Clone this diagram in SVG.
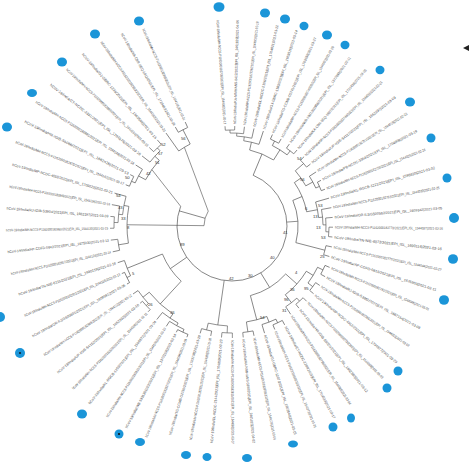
<svg xmlns="http://www.w3.org/2000/svg" width="474" height="474" viewBox="0 0 474 474">
<style>
.c line,.c circle,.c path{stroke:#4a4a4a;stroke-width:0.6;fill:none}
.lab{font-family:"Liberation Sans",Arial,sans-serif;font-size:3.6px;fill:#474747}
.l{text-anchor:end}
.bs{font-family:"Liberation Sans",Arial,sans-serif;font-size:4.2px;fill:#333}
.dot{fill:#1b95d8}
</style>
<rect width="474" height="474" fill="#fff"/>
<g transform="translate(232,226)">
<g id="connectors" class="c">
<circle r="96" pathLength="360" stroke-dasharray="5.57 400" transform="rotate(-94)"/>
<circle r="93" pathLength="360" stroke-dasharray="8.36 400" transform="rotate(-91.22)"/>
<circle r="90" pathLength="360" stroke-dasharray="9.75 400" transform="rotate(-87.04)"/>
<circle r="86" pathLength="360" stroke-dasharray="10.44 400" transform="rotate(-82.16)"/>
<circle r="95" pathLength="360" stroke-dasharray="5.57 400" transform="rotate(-66.15)"/>
<circle r="95" pathLength="360" stroke-dasharray="5.57 400" transform="rotate(-55.01)"/>
<circle r="90" pathLength="360" stroke-dasharray="11.14 400" transform="rotate(-63.37)"/>
<circle r="78" pathLength="360" stroke-dasharray="19.14 400" transform="rotate(-76.94)"/>
<circle r="95" pathLength="360" stroke-dasharray="5.57 400" transform="rotate(-43.87)"/>
<circle r="96" pathLength="360" stroke-dasharray="5.57 400" transform="rotate(-27.16)"/>
<circle r="92" pathLength="360" stroke-dasharray="8.35 400" transform="rotate(-32.73)"/>
<circle r="84" pathLength="360" stroke-dasharray="12.53 400" transform="rotate(-41.09)"/>
<circle r="97" pathLength="360" stroke-dasharray="5.57 400" transform="rotate(0.69)"/>
<circle r="94" pathLength="360" stroke-dasharray="8.36 400" transform="rotate(-4.88)"/>
<circle r="91" pathLength="360" stroke-dasharray="9.75 400" transform="rotate(-10.45)"/>
<circle r="87" pathLength="360" stroke-dasharray="10.44 400" transform="rotate(-16.02)"/>
<circle r="76" pathLength="360" stroke-dasharray="24.03 400" transform="rotate(-34.83)"/>
<circle r="96" pathLength="360" stroke-dasharray="5.57 400" transform="rotate(11.83)"/>
<circle r="66" pathLength="360" stroke-dasharray="37.44 400" transform="rotate(-22.82)"/>
<circle r="101" pathLength="360" stroke-dasharray="5.57 400" transform="rotate(22.97)"/>
<circle r="101" pathLength="360" stroke-dasharray="5.57 400" transform="rotate(34.11)"/>
<circle r="95" pathLength="360" stroke-dasharray="11.14 400" transform="rotate(25.76)"/>
<circle r="101" pathLength="360" stroke-dasharray="5.57 400" transform="rotate(45.25)"/>
<circle r="97" pathLength="360" stroke-dasharray="8.35 400" transform="rotate(48.04)"/>
<circle r="87" pathLength="360" stroke-dasharray="20.89 400" transform="rotate(31.33)"/>
<circle r="107" pathLength="360" stroke-dasharray="5.57 400" transform="rotate(61.96)"/>
<circle r="103" pathLength="360" stroke-dasharray="8.35 400" transform="rotate(64.75)"/>
<circle r="107" pathLength="360" stroke-dasharray="5.57 400" transform="rotate(78.67)"/>
<circle r="97" pathLength="360" stroke-dasharray="12.53 400" transform="rotate(68.93)"/>
<circle r="72" pathLength="360" stroke-dasharray="33.42 400" transform="rotate(41.78)"/>
<circle r="107" pathLength="360" stroke-dasharray="5.57 400" transform="rotate(89.81)"/>
<circle r="107" pathLength="360" stroke-dasharray="5.57 400" transform="rotate(100.95)"/>
<circle r="100" pathLength="360" stroke-dasharray="11.14 400" transform="rotate(92.6)"/>
<circle r="117" pathLength="360" stroke-dasharray="5.57 400" transform="rotate(112.09)"/>
<circle r="114" pathLength="360" stroke-dasharray="8.35 400" transform="rotate(114.88)"/>
<circle r="111" pathLength="360" stroke-dasharray="9.74 400" transform="rotate(119.06)"/>
<circle r="117" pathLength="360" stroke-dasharray="5.57 400" transform="rotate(134.37)"/>
<circle r="114" pathLength="360" stroke-dasharray="8.35 400" transform="rotate(137.16)"/>
<circle r="106" pathLength="360" stroke-dasharray="17.41 400" transform="rotate(123.93)"/>
<circle r="117" pathLength="360" stroke-dasharray="5.57 400" transform="rotate(151.08)"/>
<circle r="113" pathLength="360" stroke-dasharray="8.35 400" transform="rotate(153.87)"/>
<circle r="75" pathLength="360" stroke-dasharray="25.41 400" transform="rotate(132.64)"/>
<circle r="115" pathLength="360" stroke-dasharray="5.57 400" transform="rotate(167.79)"/>
<circle r="118" pathLength="360" stroke-dasharray="5.57 400" transform="rotate(178.93)"/>
<circle r="114" pathLength="360" stroke-dasharray="8.35 400" transform="rotate(181.72)"/>
<circle r="110" pathLength="360" stroke-dasharray="9.74 400" transform="rotate(185.9)"/>
<circle r="105" pathLength="360" stroke-dasharray="20.19 400" transform="rotate(170.58)"/>
<circle r="110" pathLength="360" stroke-dasharray="5.57 400" transform="rotate(201.21)"/>
<circle r="106" pathLength="360" stroke-dasharray="8.35 400" transform="rotate(204)"/>
<circle r="108" pathLength="360" stroke-dasharray="5.57 400" transform="rotate(223.49)"/>
<circle r="104" pathLength="360" stroke-dasharray="8.36 400" transform="rotate(217.92)"/>
<circle r="98" pathLength="360" stroke-dasharray="13.92 400" transform="rotate(208.18)"/>
<circle r="108" pathLength="360" stroke-dasharray="5.57 400" transform="rotate(240.2)"/>
<circle r="92" pathLength="360" stroke-dasharray="8.36 400" transform="rotate(234.63)"/>
<circle r="55" pathLength="360" stroke-dasharray="268.37 400" transform="rotate(-67.37)"/>
<circle r="28" pathLength="360" stroke-dasharray="31.32 400" transform="rotate(180.68)"/>
<line x1="93" x2="96" transform="rotate(-91.22)"/>
<line x1="90" x2="93" transform="rotate(-87.04)"/>
<line x1="86" x2="90" transform="rotate(-82.16)"/>
<line x1="78" x2="86" transform="rotate(-76.94)"/>
<line x1="90" x2="95" transform="rotate(-63.37)"/>
<line x1="90" x2="95" transform="rotate(-52.23)"/>
<line x1="78" x2="90" transform="rotate(-57.8)"/>
<line x1="55" x2="78" transform="rotate(-67.37)"/>
<line x1="84" x2="95" transform="rotate(-41.09)"/>
<line x1="92" x2="96" transform="rotate(-24.38)"/>
<line x1="84" x2="92" transform="rotate(-28.56)"/>
<line x1="76" x2="84" transform="rotate(-34.83)"/>
<line x1="94" x2="97" transform="rotate(3.48)"/>
<line x1="91" x2="94" transform="rotate(-0.7)"/>
<line x1="87" x2="91" transform="rotate(-5.58)"/>
<line x1="76" x2="87" transform="rotate(-10.8)"/>
<line x1="66" x2="76" transform="rotate(-22.82)"/>
<line x1="66" x2="96" transform="rotate(14.62)"/>
<line x1="55" x2="66" transform="rotate(-4.1)"/>
<line x1="95" x2="101" transform="rotate(25.76)"/>
<line x1="95" x2="101" transform="rotate(36.9)"/>
<line x1="87" x2="95" transform="rotate(31.33)"/>
<line x1="97" x2="101" transform="rotate(48.04)"/>
<line x1="87" x2="97" transform="rotate(52.22)"/>
<line x1="72" x2="87" transform="rotate(41.78)"/>
<line x1="103" x2="107" transform="rotate(64.75)"/>
<line x1="97" x2="103" transform="rotate(68.93)"/>
<line x1="97" x2="107" transform="rotate(81.46)"/>
<line x1="72" x2="97" transform="rotate(75.2)"/>
<line x1="55" x2="72" transform="rotate(58.49)"/>
<line x1="100" x2="107" transform="rotate(92.6)"/>
<line x1="100" x2="107" transform="rotate(103.74)"/>
<line x1="55" x2="100" transform="rotate(98.17)"/>
<line x1="114" x2="117" transform="rotate(114.88)"/>
<line x1="111" x2="114" transform="rotate(119.06)"/>
<line x1="106" x2="111" transform="rotate(123.93)"/>
<line x1="114" x2="117" transform="rotate(137.16)"/>
<line x1="106" x2="114" transform="rotate(141.34)"/>
<line x1="75" x2="106" transform="rotate(132.64)"/>
<line x1="113" x2="117" transform="rotate(153.87)"/>
<line x1="75" x2="113" transform="rotate(158.05)"/>
<line x1="55" x2="75" transform="rotate(145.35)"/>
<line x1="105" x2="115" transform="rotate(170.58)"/>
<line x1="114" x2="118" transform="rotate(181.72)"/>
<line x1="110" x2="114" transform="rotate(185.9)"/>
<line x1="105" x2="110" transform="rotate(190.77)"/>
<line x1="28" x2="105" transform="rotate(180.68)"/>
<line x1="106" x2="110" transform="rotate(204)"/>
<line x1="98" x2="106" transform="rotate(208.18)"/>
<line x1="104" x2="108" transform="rotate(226.28)"/>
<line x1="98" x2="104" transform="rotate(222.1)"/>
<line x1="92" x2="108" transform="rotate(242.99)"/>
<line x1="28" x2="55" transform="rotate(196)"/>
<path d="M-51.35,-19.71L-80.14,-56.4M-23.75,-14.84L-47.63,-78.71"/>
<line x1="96" x2="100" transform="rotate(-94)"/>
<line x1="96" x2="100" transform="rotate(-88.43)"/>
<line x1="93" x2="100" transform="rotate(-82.86)"/>
<line x1="90" x2="100" transform="rotate(-77.29)"/>
<line x1="86" x2="100" transform="rotate(-71.72)"/>
<line x1="95" x2="100" transform="rotate(-66.15)"/>
<line x1="95" x2="100" transform="rotate(-60.58)"/>
<line x1="95" x2="100" transform="rotate(-55.01)"/>
<line x1="95" x2="100" transform="rotate(-49.44)"/>
<line x1="95" x2="100" transform="rotate(-43.87)"/>
<line x1="95" x2="100" transform="rotate(-38.3)"/>
<line x1="92" x2="100" transform="rotate(-32.73)"/>
<line x1="96" x2="100" transform="rotate(-27.16)"/>
<line x1="96" x2="100" transform="rotate(-21.59)"/>
<line x1="87" x2="101" transform="rotate(-16.02)"/>
<line x1="91" x2="101" transform="rotate(-10.45)"/>
<line x1="94" x2="101" transform="rotate(-4.88)"/>
<line x1="97" x2="101" transform="rotate(0.69)"/>
<line x1="97" x2="101" transform="rotate(6.26)"/>
<line x1="96" x2="102" transform="rotate(11.83)"/>
<line x1="96" x2="102" transform="rotate(17.4)"/>
<line x1="101" x2="106" transform="rotate(22.97)"/>
<line x1="101" x2="106" transform="rotate(28.54)"/>
<line x1="101" x2="106" transform="rotate(34.11)"/>
<line x1="101" x2="106" transform="rotate(39.68)"/>
<line x1="101" x2="106" transform="rotate(45.25)"/>
<line x1="101" x2="106" transform="rotate(50.82)"/>
<line x1="97" x2="106" transform="rotate(56.39)"/>
<line x1="107" x2="112" transform="rotate(61.96)"/>
<line x1="107" x2="112" transform="rotate(67.53)"/>
<line x1="103" x2="112" transform="rotate(73.1)"/>
<line x1="107" x2="112" transform="rotate(78.67)"/>
<line x1="107" x2="112" transform="rotate(84.24)"/>
<line x1="107" x2="112" transform="rotate(89.81)"/>
<line x1="107" x2="112" transform="rotate(95.38)"/>
<line x1="107" x2="112" transform="rotate(100.95)"/>
<line x1="107" x2="112" transform="rotate(106.52)"/>
<line x1="117" x2="120" transform="rotate(112.09)"/>
<line x1="117" x2="120" transform="rotate(117.66)"/>
<line x1="114" x2="120" transform="rotate(123.23)"/>
<line x1="111" x2="120" transform="rotate(128.8)"/>
<line x1="117" x2="120" transform="rotate(134.37)"/>
<line x1="117" x2="120" transform="rotate(139.94)"/>
<line x1="114" x2="120" transform="rotate(145.51)"/>
<line x1="117" x2="120" transform="rotate(151.08)"/>
<line x1="117" x2="120" transform="rotate(156.65)"/>
<line x1="113" x2="120" transform="rotate(162.22)"/>
<line x1="115" x2="122" transform="rotate(167.79)"/>
<line x1="115" x2="122" transform="rotate(173.36)"/>
<line x1="118" x2="122" transform="rotate(178.93)"/>
<line x1="118" x2="122" transform="rotate(184.5)"/>
<line x1="114" x2="122" transform="rotate(190.07)"/>
<line x1="110" x2="122" transform="rotate(195.64)"/>
<line x1="110" x2="114" transform="rotate(201.21)"/>
<line x1="110" x2="114" transform="rotate(206.78)"/>
<line x1="106" x2="114" transform="rotate(212.35)"/>
<line x1="104" x2="114" transform="rotate(217.92)"/>
<line x1="108" x2="114" transform="rotate(223.49)"/>
<line x1="108" x2="114" transform="rotate(229.06)"/>
<line x1="92" x2="114" transform="rotate(234.63)"/>
<line x1="108" x2="114" transform="rotate(240.2)"/>
<line x1="108" x2="114" transform="rotate(245.77)"/>
</g>
<g id="leaf-0" transform="rotate(-94)"><text class="lab l" x="-102" dy="1.2" transform="rotate(180)" textLength="104" lengthAdjust="spacingAndGlyphs">hCoV-19/India/MH-NCCS-P1162000182735/2021|EPI_ISL_1544002|2021-02-17</text></g>
<g id="leaf-1" transform="rotate(-88.43)"><text class="lab" x="102" dy="1.2" textLength="104" lengthAdjust="spacingAndGlyphs">hCoV-19/India/KA-NIMHANS-0412/2021|EPI_ISL_2461829|2021-04-06</text></g>
<g id="leaf-2" transform="rotate(-82.86)"><text class="lab" x="102" dy="1.2" textLength="104" lengthAdjust="spacingAndGlyphs">hCoV-19/India/MH-NCCS-P1162000182736/2021|EPI_ISL_1544003|2021-02-18</text></g>
<g id="leaf-3" transform="rotate(-77.29)"><text class="lab" x="102" dy="1.2" textLength="104" lengthAdjust="spacingAndGlyphs">hCoV-19/India/DL-NCDC-2106/2021|EPI_ISL_1704821|2021-03-22</text></g>
<g id="leaf-4" transform="rotate(-71.72)"><text class="lab" x="102" dy="1.2" textLength="104" lengthAdjust="spacingAndGlyphs">hCoV-19/India/GJ-GBRC-1183/2021|EPI_ISL_1663516|2021-03-14</text></g>
<g id="leaf-5" transform="rotate(-66.15)"><text class="lab" x="102" dy="1.2" textLength="104" lengthAdjust="spacingAndGlyphs">hCoV-19/India/TG-CCMB-O2741/2021|EPI_ISL_1703659|2021-03-27</text></g>
<g id="leaf-6" transform="rotate(-60.58)"><text class="lab" x="102" dy="1.2" textLength="104" lengthAdjust="spacingAndGlyphs">hCoV-19/India/MH-NCCS-P1162000182740/2021|EPI_ISL_1544007|2021-02-20</text></g>
<g id="leaf-7" transform="rotate(-55.01)"><text class="lab" x="102" dy="1.2" textLength="104" lengthAdjust="spacingAndGlyphs">hCoV-19/India/WB-1931300956/2021|EPI_ISL_1372093|2021-02-11</text></g>
<g id="leaf-8" transform="rotate(-49.44)"><text class="lab" x="102" dy="1.2" textLength="104" lengthAdjust="spacingAndGlyphs">hCoV-19/India/KA-CBR-SEQ-0987/2021|EPI_ISL_1720438|2021-03-25</text></g>
<g id="leaf-9" transform="rotate(-43.87)"><text class="lab" x="102" dy="1.2" textLength="106" lengthAdjust="spacingAndGlyphs">hCoV-19/India/MH-NCCS-P1162000182744/2021|EPI_ISL_1544011|2021-02-21</text></g>
<g id="leaf-10" transform="rotate(-38.3)"><text class="lab" x="102" dy="1.2" textLength="106" lengthAdjust="spacingAndGlyphs">hCoV-19/India/UP-IGIB-S4117/2021|EPI_ISL_1662297|2021-03-09</text></g>
<g id="leaf-11" transform="rotate(-32.73)"><text class="lab" x="102" dy="1.2" textLength="106" lengthAdjust="spacingAndGlyphs">hCoV-19/India/MH-NCCS-P1162000182751/2021|EPI_ISL_1544018|2021-02-23</text></g>
<g id="leaf-12" transform="rotate(-27.16)"><text class="lab" x="102" dy="1.2" textLength="106" lengthAdjust="spacingAndGlyphs">hCoV-19/India/PB-NCDC-3354/2021|EPI_ISL_1704908|2021-03-19</text></g>
<g id="leaf-13" transform="rotate(-21.59)"><text class="lab" x="102" dy="1.2" textLength="106" lengthAdjust="spacingAndGlyphs">hCoV-19/India/MH-NCCS-P1162000182758/2021|EPI_ISL_1544025|2021-02-24</text></g>
<g id="leaf-14" transform="rotate(-16.02)"><text class="lab" x="103" dy="1.2" textLength="108" lengthAdjust="spacingAndGlyphs">hCoV-19/India/KL-RGCB-1221/2021|EPI_ISL_1598830|2021-03-02</text></g>
<g id="leaf-15" transform="rotate(-10.45)"><text class="lab" x="103" dy="1.2" textLength="108" lengthAdjust="spacingAndGlyphs">hCoV-19/India/MH-NCCS-P1162000182763/2021|EPI_ISL_1544030|2021-02-25</text></g>
<g id="leaf-16" transform="rotate(-4.88)"><text class="lab" x="103" dy="1.2" textLength="108" lengthAdjust="spacingAndGlyphs">hCoV-19/India/OR-ILSGS00562/2021|EPI_ISL_1609342|2021-03-05</text></g>
<g id="leaf-17" transform="rotate(0.69)"><text class="lab" x="103" dy="1.2" textLength="108" lengthAdjust="spacingAndGlyphs">hCoV-19/India/MH-NCCS-P1162000182770/2021|EPI_ISL_1544037|2021-02-26</text></g>
<g id="leaf-18" transform="rotate(6.26)"><text class="lab" x="103" dy="1.2" textLength="108" lengthAdjust="spacingAndGlyphs">hCoV-19/India/TN-NIE-6072/2021|EPI_ISL_1690116|2021-03-16</text></g>
<g id="leaf-19" transform="rotate(11.83)"><text class="lab" x="104" dy="1.2" textLength="110" lengthAdjust="spacingAndGlyphs">hCoV-19/India/MH-NCCS-P1162000182777/2021|EPI_ISL_1544044|2021-02-27</text></g>
<g id="leaf-20" transform="rotate(17.4)"><text class="lab" x="104" dy="1.2" textLength="110" lengthAdjust="spacingAndGlyphs">hCoV-19/India/AP-CDFD-0815/2021|EPI_ISL_1675903|2021-03-11</text></g>
<g id="leaf-21" transform="rotate(22.97)"><text class="lab" x="108" dy="1.2" textLength="106" lengthAdjust="spacingAndGlyphs">hCoV-19/India/MH-NCCS-P1162000182781/2021|EPI_ISL_1544048|2021-03-01</text></g>
<g id="leaf-22" transform="rotate(28.54)"><text class="lab" x="108" dy="1.2" textLength="106" lengthAdjust="spacingAndGlyphs">hCoV-19/India/RJ-IGIB-S3861/2021|EPI_ISL_1662154|2021-03-08</text></g>
<g id="leaf-23" transform="rotate(34.11)"><text class="lab" x="108" dy="1.2" textLength="106" lengthAdjust="spacingAndGlyphs">hCoV-19/India/MH-NCCS-P1162000182786/2021|EPI_ISL_1544053|2021-03-02</text></g>
<g id="leaf-24" transform="rotate(39.68)"><text class="lab" x="108" dy="1.2" textLength="106" lengthAdjust="spacingAndGlyphs">hCoV-19/India/MP-NCDC-4012/2021|EPI_ISL_1704977|2021-03-20</text></g>
<g id="leaf-25" transform="rotate(45.25)"><text class="lab" x="108" dy="1.2" textLength="106" lengthAdjust="spacingAndGlyphs">hCoV-19/India/MH-NCCS-P1162000182792/2021|EPI_ISL_1544059|2021-03-03</text></g>
<g id="leaf-26" transform="rotate(50.82)"><text class="lab" x="108" dy="1.2" textLength="106" lengthAdjust="spacingAndGlyphs">hCoV-19/India/HR-IGIB-S5020/2021|EPI_ISL_1662380|2021-03-12</text></g>
<g id="leaf-27" transform="rotate(56.39)"><text class="lab" x="108" dy="1.2" textLength="106" lengthAdjust="spacingAndGlyphs">hCoV-19/India/MH-NCCS-P1162000182798/2021|EPI_ISL_1544065|2021-03-04</text></g>
<g id="leaf-28" transform="rotate(61.96)"><text class="lab" x="114" dy="1.2" textLength="104" lengthAdjust="spacingAndGlyphs">hCoV-19/India/CT-NCDC-2288/2021|EPI_ISL_1704533|2021-03-17</text></g>
<g id="leaf-29" transform="rotate(67.53)"><text class="lab" x="114" dy="1.2" textLength="104" lengthAdjust="spacingAndGlyphs">hCoV-19/India/MH-NCCS-P1162000182803/2021|EPI_ISL_1544070|2021-03-05</text></g>
<g id="leaf-30" transform="rotate(73.1)"><text class="lab" x="114" dy="1.2" textLength="104" lengthAdjust="spacingAndGlyphs">hCoV-19/India/GJ-GBRC-1207/2021|EPI_ISL_1663540|2021-03-15</text></g>
<g id="leaf-31" transform="rotate(78.67)"><text class="lab" x="114" dy="1.2" textLength="104" lengthAdjust="spacingAndGlyphs">hCoV-19/India/MH-NCCS-P1162000182809/2021|EPI_ISL_1544076|2021-03-06</text></g>
<g id="leaf-32" transform="rotate(84.24)"><text class="lab" x="114" dy="1.2" textLength="104" lengthAdjust="spacingAndGlyphs">hCoV-19/India/KA-NIMHANS-0398/2021|EPI_ISL_2461815|2021-04-02</text></g>
<g id="leaf-33" transform="rotate(89.81)"><text class="lab" x="114" dy="1.2" textLength="104" lengthAdjust="spacingAndGlyphs">hCoV-19/India/MH-NCCS-P1162000182815/2021|EPI_ISL_1544082|2021-03-07</text></g>
<g id="leaf-34" transform="rotate(95.38)"><text class="lab l" x="-114" dy="1.2" transform="rotate(180)" textLength="104" lengthAdjust="spacingAndGlyphs">hCoV-19/India/DL-NCDC-2144/2021|EPI_ISL_1704859|2021-03-23</text></g>
<g id="leaf-35" transform="rotate(100.95)"><text class="lab l" x="-114" dy="1.2" transform="rotate(180)" textLength="104" lengthAdjust="spacingAndGlyphs">hCoV-19/India/MH-NCCS-P1162000182821/2021|EPI_ISL_1544088|2021-03-08</text></g>
<g id="leaf-36" transform="rotate(106.52)"><text class="lab l" x="-114" dy="1.2" transform="rotate(180)" textLength="104" lengthAdjust="spacingAndGlyphs">hCoV-19/India/TG-CCMB-O2790/2021|EPI_ISL_1703708|2021-03-28</text></g>
<g id="leaf-37" transform="rotate(112.09)"><text class="lab l" x="-122" dy="1.2" transform="rotate(180)" textLength="106" lengthAdjust="spacingAndGlyphs">hCoV-19/India/MH-NCCS-P1162000182827/2021|EPI_ISL_1544094|2021-03-09</text></g>
<g id="leaf-38" transform="rotate(117.66)"><text class="lab l" x="-122" dy="1.2" transform="rotate(180)" textLength="106" lengthAdjust="spacingAndGlyphs">hCoV-19/India/WB-1931301022/2021|EPI_ISL_1372159|2021-02-14</text></g>
<g id="leaf-39" transform="rotate(123.23)"><text class="lab l" x="-122" dy="1.2" transform="rotate(180)" textLength="106" lengthAdjust="spacingAndGlyphs">hCoV-19/India/MH-NCCS-P1162000182833/2021|EPI_ISL_1544100|2021-03-10</text></g>
<g id="leaf-40" transform="rotate(128.8)"><text class="lab l" x="-122" dy="1.2" transform="rotate(180)" textLength="106" lengthAdjust="spacingAndGlyphs">hCoV-19/India/KL-RGCB-1263/2021|EPI_ISL_1598872|2021-03-04</text></g>
<g id="leaf-41" transform="rotate(134.37)"><text class="lab l" x="-122" dy="1.2" transform="rotate(180)" textLength="106" lengthAdjust="spacingAndGlyphs">hCoV-19/India/MH-NCCS-P1162000182839/2021|EPI_ISL_1544106|2021-03-11</text></g>
<g id="leaf-42" transform="rotate(139.94)"><text class="lab l" x="-122" dy="1.2" transform="rotate(180)" textLength="106" lengthAdjust="spacingAndGlyphs">hCoV-19/India/UP-IGIB-S4152/2021|EPI_ISL_1662332|2021-03-10</text></g>
<g id="leaf-43" transform="rotate(145.51)"><text class="lab l" x="-122" dy="1.2" transform="rotate(180)" textLength="106" lengthAdjust="spacingAndGlyphs">hCoV-19/India/MH-NCCS-P1162000182845/2021|EPI_ISL_1544112|2021-03-12</text></g>
<g id="leaf-44" transform="rotate(151.08)"><text class="lab l" x="-122" dy="1.2" transform="rotate(180)" textLength="106" lengthAdjust="spacingAndGlyphs">hCoV-19/India/OR-ILSGS00601/2021|EPI_ISL_1609381|2021-03-06</text></g>
<g id="leaf-45" transform="rotate(156.65)"><text class="lab l" x="-122" dy="1.2" transform="rotate(180)" textLength="104" lengthAdjust="spacingAndGlyphs">hCoV-19/India/MH-NCCS-P1162000182851/2021|EPI_ISL_1544118|2021-03-13</text></g>
<g id="leaf-46" transform="rotate(162.22)"><text class="lab l" x="-122" dy="1.2" transform="rotate(180)" textLength="102" lengthAdjust="spacingAndGlyphs">hCoV-19/India/TN-NIE-6115/2021|EPI_ISL_1690159|2021-03-18</text></g>
<g id="leaf-47" transform="rotate(167.79)"><text class="lab l" x="-124" dy="1.2" transform="rotate(180)" textLength="102" lengthAdjust="spacingAndGlyphs">hCoV-19/India/MH-NCCS-P1162000182857/2021|EPI_ISL_1544124|2021-03-14</text></g>
<g id="leaf-48" transform="rotate(173.36)"><text class="lab l" x="-124" dy="1.2" transform="rotate(180)" textLength="102" lengthAdjust="spacingAndGlyphs">hCoV-19/India/AP-CDFD-0842/2021|EPI_ISL_1675930|2021-03-13</text></g>
<g id="leaf-49" transform="rotate(178.93)"><text class="lab l" x="-124" dy="1.2" transform="rotate(180)" textLength="102" lengthAdjust="spacingAndGlyphs">hCoV-19/India/MH-NCCS-P1162000182863/2021|EPI_ISL_1544130|2021-03-15</text></g>
<g id="leaf-50" transform="rotate(184.5)"><text class="lab l" x="-124" dy="1.2" transform="rotate(180)" textLength="102" lengthAdjust="spacingAndGlyphs">hCoV-19/India/RJ-IGIB-S3904/2021|EPI_ISL_1662197|2021-03-09</text></g>
<g id="leaf-51" transform="rotate(190.07)"><text class="lab l" x="-124" dy="1.2" transform="rotate(180)" textLength="102" lengthAdjust="spacingAndGlyphs">hCoV-19/India/MH-NCCS-P1162000182869/2021|EPI_ISL_1544136|2021-03-16</text></g>
<g id="leaf-52" transform="rotate(195.64)"><text class="lab l" x="-124" dy="1.2" transform="rotate(180)" textLength="104" lengthAdjust="spacingAndGlyphs">hCoV-19/India/MP-NCDC-4058/2021|EPI_ISL_1705023|2021-03-21</text></g>
<g id="leaf-53" transform="rotate(201.21)"><text class="lab l" x="-116" dy="1.2" transform="rotate(180)" textLength="116" lengthAdjust="spacingAndGlyphs">hCoV-19/India/MH-NCCS-P1162000182875/2021|EPI_ISL_1544142|2021-03-17</text></g>
<g id="leaf-54" transform="rotate(206.78)"><text class="lab l" x="-116" dy="1.2" transform="rotate(180)" textLength="116" lengthAdjust="spacingAndGlyphs">hCoV-19/India/HR-IGIB-S5066/2021|EPI_ISL_1662426|2021-03-13</text></g>
<g id="leaf-55" transform="rotate(212.35)"><text class="lab l" x="-116" dy="1.2" transform="rotate(180)" textLength="116" lengthAdjust="spacingAndGlyphs">hCoV-19/India/MH-NCCS-P1162000182881/2021|EPI_ISL_1544148|2021-03-18</text></g>
<g id="leaf-56" transform="rotate(217.92)"><text class="lab l" x="-116" dy="1.2" transform="rotate(180)" textLength="114" lengthAdjust="spacingAndGlyphs">hCoV-19/India/CT-NCDC-2331/2021|EPI_ISL_1704576|2021-03-18</text></g>
<g id="leaf-57" transform="rotate(223.49)"><text class="lab l" x="-116" dy="1.2" transform="rotate(180)" textLength="112" lengthAdjust="spacingAndGlyphs">hCoV-19/India/MH-NCCS-P1162000182887/2021|EPI_ISL_1544154|2021-03-19</text></g>
<g id="leaf-58" transform="rotate(229.06)"><text class="lab l" x="-116" dy="1.2" transform="rotate(180)" textLength="112" lengthAdjust="spacingAndGlyphs">hCoV-19/India/GJ-GBRC-1236/2021|EPI_ISL_1663569|2021-03-16</text></g>
<g id="leaf-59" transform="rotate(234.63)"><text class="lab l" x="-116" dy="1.2" transform="rotate(180)" textLength="110" lengthAdjust="spacingAndGlyphs">hCoV-19/India/MH-NCCS-P1162000182893/2021|EPI_ISL_1544160|2021-03-20</text></g>
<g id="leaf-60" transform="rotate(240.2)"><text class="lab l" x="-116" dy="1.2" transform="rotate(180)" textLength="106" lengthAdjust="spacingAndGlyphs">hCoV-19/India/KA-CBR-SEQ-1012/2021|EPI_ISL_1720463|2021-03-26</text></g>
<g id="leaf-61" transform="rotate(245.77)"><text class="lab l" x="-116" dy="1.2" transform="rotate(180)" textLength="100" lengthAdjust="spacingAndGlyphs">hCoV-19/India/MH-NCCS-P1162000182899/2021|EPI_ISL_1544166|2021-03-21</text></g>
</g>
<g id="bootstrap" class="bs">
<text x="297" y="160">54</text><text x="300" y="181">56</text><text x="305" y="210">6</text><text x="318" y="207">53</text>
<text x="313" y="218">13</text><text x="316" y="229">13</text><text x="321" y="239">53</text><text x="320" y="258">25</text>
<text x="295" y="274">4</text><text x="290" y="291">36</text><text x="304" y="290">95</text><text x="284" y="301">96</text>
<text x="282" y="312">31</text><text x="260" y="319">54</text><text x="181" y="140">56</text><text x="161" y="146">52</text>
<text x="158" y="155">57</text><text x="155" y="164">51</text><text x="146" y="175">42</text><text x="125" y="179">50</text>
<text x="116" y="197">54</text><text x="118" y="209">43</text><text x="121" y="220">33</text><text x="127" y="229">8</text>
<text x="180" y="246">89</text><text x="132" y="275">5</text><text x="148" y="306">26</text><text x="170" y="314">36</text>
<text x="270" y="259">40</text><text x="283" y="234">41</text><text x="248" y="277">30</text><text x="229" y="280">42</text>
</g>
<g id="markers">
<ellipse class="dot" cx="219" cy="7" rx="5.5" ry="4.8"/>
<ellipse class="dot" cx="265" cy="13" rx="5" ry="4.5"/>
<ellipse class="dot" cx="285" cy="19" rx="5" ry="4.5"/>
<ellipse class="dot" cx="304" cy="26" rx="4.5" ry="4.2"/>
<ellipse class="dot" cx="327" cy="35" rx="5" ry="4.5"/>
<ellipse class="dot" cx="345" cy="45" rx="4.5" ry="4.2"/>
<ellipse class="dot" cx="380" cy="70" rx="4.5" ry="4.2"/>
<ellipse class="dot" cx="410" cy="102" rx="5" ry="4.5"/>
<ellipse class="dot" cx="431" cy="138" rx="4.5" ry="4.5"/>
<ellipse class="dot" cx="447" cy="178" rx="4.5" ry="4.5"/>
<ellipse class="dot" cx="454" cy="218" rx="5" ry="5"/>
<ellipse class="dot" cx="453" cy="259" rx="5" ry="4.8"/>
<ellipse class="dot" cx="444" cy="300" rx="5" ry="4.8"/>
<ellipse class="dot" cx="398" cy="371" rx="4.5" ry="4.5"/>
<ellipse class="dot" cx="387" cy="388" rx="4.5" ry="4.5"/>
<ellipse class="dot" cx="351" cy="418" rx="4" ry="4.5"/>
<ellipse class="dot" cx="333" cy="427" rx="4.5" ry="4.5"/>
<ellipse class="dot" cx="293" cy="444" rx="5" ry="3.5"/>
<ellipse class="dot" cx="247" cy="458" rx="5" ry="4"/>
<ellipse class="dot" cx="207" cy="457" rx="4.5" ry="4"/>
<ellipse class="dot" cx="186" cy="455" rx="5" ry="4"/>
<ellipse class="dot" cx="140" cy="442" rx="5" ry="4"/>
<ellipse class="dot" cx="119" cy="434" rx="4.5" ry="4.5"/>
<ellipse class="dot" cx="82" cy="414" rx="5" ry="4.5"/>
<ellipse class="dot" cx="20" cy="353" rx="5" ry="5"/>
<ellipse class="dot" cx="0" cy="317" rx="5" ry="5"/>
<ellipse class="dot" cx="7" cy="127" rx="5" ry="4.5"/>
<ellipse class="dot" cx="32" cy="93" rx="5" ry="4"/>
<ellipse class="dot" cx="62" cy="62" rx="5" ry="4.5"/>
<ellipse class="dot" cx="95" cy="34" rx="5" ry="4.5"/>
<ellipse class="dot" cx="139" cy="21" rx="5" ry="4.5"/>
<circle cx="20" cy="353" r="1.1" fill="#123"/>
<circle cx="119" cy="434" r="1.1" fill="#111"/>
<polygon points="463,48 469,45 469,51" fill="#222"/>
</g>
</svg>
